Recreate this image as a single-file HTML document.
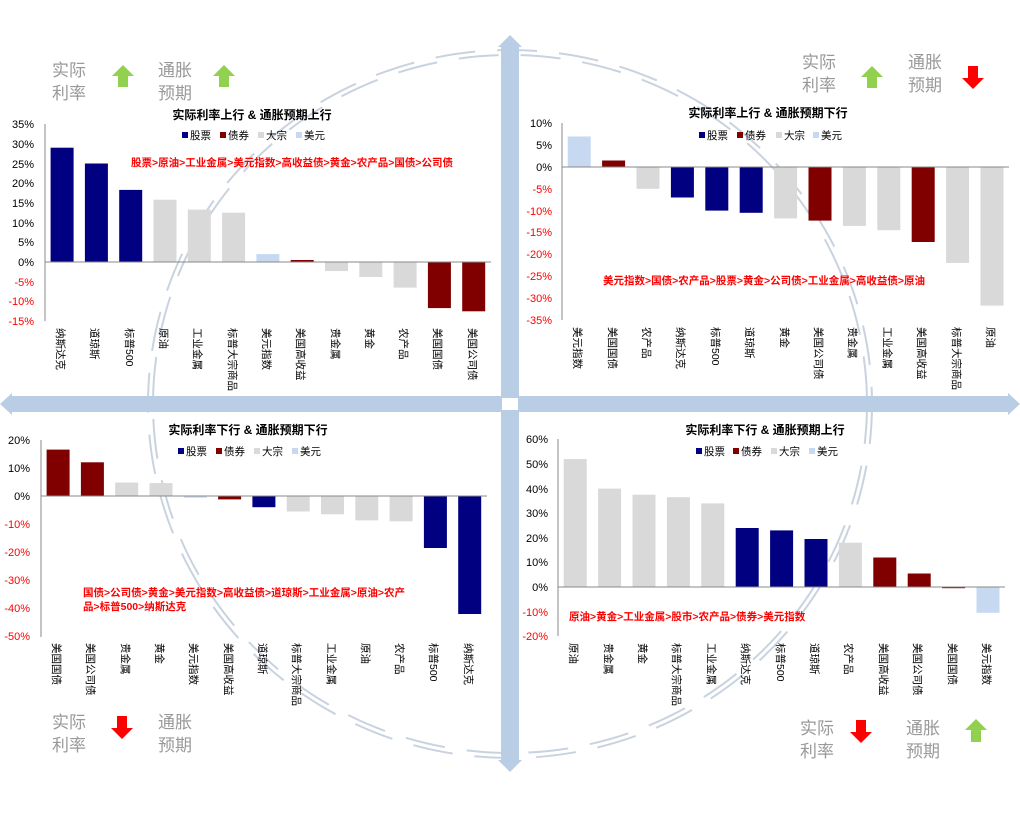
<!DOCTYPE html>
<html><head><meta charset="utf-8"><style>
body{margin:0;background:#fff}
svg{display:block;font-family:"Liberation Sans","Noto Sans CJK SC",sans-serif}
.t{font-size:11px;fill:#000}
.tn{font-size:11px;fill:#f00}
.lb{font-size:10.5px;fill:#000}
.ti{font-size:12px;font-weight:bold;fill:#000;text-anchor:middle}
.lg{font-size:10.5px;fill:#000}
.rd{font-size:10.5px;font-weight:bold;fill:#f00}
.q{font-size:17px;fill:#999}
</style></head><body>
<svg width="1020" height="835" viewBox="0 0 1020 835" xmlns="http://www.w3.org/2000/svg">
<rect width="1020" height="835" fill="#fff"/>
<!-- dashed circle -->
<ellipse cx="510" cy="404" rx="362" ry="354" fill="none" stroke="#c9d3e0" stroke-width="2" stroke-dasharray="40 22"/>
<ellipse cx="510" cy="404" rx="357" ry="349" fill="none" stroke="#c9d3e0" stroke-width="2" stroke-dasharray="40 22"/>
<!-- cross -->
<polygon points="510,35 522,47 519,47 519,396 1008,396 1008,393 1020,404 1008,415 1008,412 519,412 519,760 522,760 510,772 498,760 501,760 501,412 12,412 12,415 0,404 12,393 12,396 501,396 501,47 498,47" fill="#b9cde5"/>
<rect x="502" y="398" width="16" height="12" fill="#fff"/>

<!-- quadrant labels -->
<g class="q">
<text x="52" y="76">实际</text><text x="52" y="99">利率</text>
<text x="158" y="76">通胀</text><text x="158" y="99">预期</text>
<text x="802" y="68">实际</text><text x="802" y="91">利率</text>
<text x="908" y="68">通胀</text><text x="908" y="91">预期</text>
<text x="52" y="728">实际</text><text x="52" y="751">利率</text>
<text x="158" y="728">通胀</text><text x="158" y="751">预期</text>
<text x="800" y="734">实际</text><text x="800" y="757">利率</text>
<text x="906" y="734">通胀</text><text x="906" y="757">预期</text>
</g>
<g fill="#92d050">
<polygon points="123,65 134,76 128,76 128,87 118,87 118,76 112,76"/>
<polygon points="224,65 235,76 229,76 229,87 219,87 219,76 213,76"/>
<polygon points="872,66 883,77 877,77 877,88 867,88 867,77 861,77"/>
<polygon points="976,719 987,730 981,730 981,742 971,742 971,730 965,730"/>
</g>
<g fill="#f00">
<polygon points="973,89 984,78 978,78 978,66 968,66 968,78 962,78"/>
<polygon points="122,739 133,728 127,728 127,716 117,716 117,728 111,728"/>
<polygon points="861,743 872,732 866,732 866,720 856,720 856,732 850,732"/>
</g>

<!-- ===== TL ===== -->
<text class="ti" x="252" y="119">实际利率上行 &amp; 通胀预期上行</text>
<g class="lg"><rect x="182" y="132" width="6" height="6" fill="#000080"/><text x="190" y="139">股票</text>
<rect x="220" y="132" width="6" height="6" fill="#800000"/><text x="228" y="139">债券</text>
<rect x="258" y="132" width="6" height="6" fill="#d9d9d9"/><text x="266" y="139">大宗</text>
<rect x="296" y="132" width="6" height="6" fill="#c6d9f1"/><text x="304" y="139">美元</text></g>
<text class="rd" x="131" y="166">股票&gt;原油&gt;工业金属&gt;美元指数&gt;高收益债&gt;黄金&gt;农产品&gt;国债&gt;公司债</text>
<g>
<rect x="50.6" y="147.7" width="23" height="114.3" fill="#000080"/>
<rect x="84.9" y="163.5" width="23" height="98.5" fill="#000080"/>
<rect x="119.2" y="189.9" width="23" height="72.1" fill="#000080"/>
<rect x="153.5" y="199.7" width="23" height="62.3" fill="#d9d9d9"/>
<rect x="187.8" y="209.6" width="23" height="52.4" fill="#d9d9d9"/>
<rect x="222.1" y="212.7" width="23" height="49.3" fill="#d9d9d9"/>
<rect x="256.4" y="254.1" width="23" height="7.9" fill="#c6d9f1"/>
<rect x="290.7" y="260" width="23" height="2" fill="#800000"/>
<rect x="325" y="262" width="23" height="9.1" fill="#d9d9d9"/>
<rect x="359.3" y="262" width="23" height="15" fill="#d9d9d9"/>
<rect x="393.6" y="262" width="23" height="25.6" fill="#d9d9d9"/>
<rect x="427.9" y="262" width="23" height="46.1" fill="#800000"/>
<rect x="462.2" y="262" width="23" height="49.3" fill="#800000"/>
</g>
<line x1="45" y1="124" x2="45" y2="321" stroke="#888"/>
<line x1="45" y1="262" x2="491" y2="262" stroke="#888"/>
<g text-anchor="end">
<text class="t" x="34" y="128">35%</text><text class="t" x="34" y="148">30%</text><text class="t" x="34" y="168">25%</text><text class="t" x="34" y="187">20%</text><text class="t" x="34" y="207">15%</text><text class="t" x="34" y="227">10%</text><text class="t" x="34" y="246">5%</text><text class="t" x="34" y="266">0%</text>
<text class="tn" x="34" y="286">-5%</text><text class="tn" x="34" y="305">-10%</text><text class="tn" x="34" y="325">-15%</text></g>
<g class="lb">
<text transform="translate(57,328) rotate(90)">纳斯达克</text>
<text transform="translate(91,328) rotate(90)">道琼斯</text>
<text transform="translate(126,328) rotate(90)">标普500</text>
<text transform="translate(160,328) rotate(90)">原油</text>
<text transform="translate(194,328) rotate(90)">工业金属</text>
<text transform="translate(229,328) rotate(90)">标普大宗商品</text>
<text transform="translate(263,328) rotate(90)">美元指数</text>
<text transform="translate(297,328) rotate(90)">美国高收益</text>
<text transform="translate(332,328) rotate(90)">贵金属</text>
<text transform="translate(366,328) rotate(90)">黄金</text>
<text transform="translate(400,328) rotate(90)">农产品</text>
<text transform="translate(434,328) rotate(90)">美国国债</text>
<text transform="translate(469,328) rotate(90)">美国公司债</text>
</g>

<!-- ===== TR ===== -->
<text class="ti" x="768" y="117">实际利率上行 &amp; 通胀预期下行</text>
<g class="lg"><rect x="699" y="132" width="6" height="6" fill="#000080"/><text x="707" y="139">股票</text>
<rect x="737" y="132" width="6" height="6" fill="#800000"/><text x="745" y="139">债券</text>
<rect x="776" y="132" width="6" height="6" fill="#d9d9d9"/><text x="784" y="139">大宗</text>
<rect x="813" y="132" width="6" height="6" fill="#c6d9f1"/><text x="821" y="139">美元</text></g>
<text class="rd" x="603" y="284">美元指数&gt;国债&gt;农产品&gt;股票&gt;黄金&gt;公司债&gt;工业金属&gt;高收益债&gt;原油</text>
<g>
<rect x="567.7" y="136.5" width="23" height="30.5" fill="#c6d9f1"/>
<rect x="602.1" y="160.5" width="23" height="6.5" fill="#800000"/>
<rect x="636.5" y="167" width="23" height="21.8" fill="#d9d9d9"/>
<rect x="670.9" y="167" width="23" height="30.5" fill="#000080"/>
<rect x="705.3" y="167" width="23" height="43.6" fill="#000080"/>
<rect x="739.7" y="167" width="23" height="45.8" fill="#000080"/>
<rect x="774.1" y="167" width="23" height="51.4" fill="#d9d9d9"/>
<rect x="808.5" y="167" width="23" height="53.6" fill="#800000"/>
<rect x="842.9" y="167" width="23" height="58.9" fill="#d9d9d9"/>
<rect x="877.3" y="167" width="23" height="63.2" fill="#d9d9d9"/>
<rect x="911.7" y="167" width="23" height="75" fill="#800000"/>
<rect x="946.1" y="167" width="23" height="95.9" fill="#d9d9d9"/>
<rect x="980.5" y="167" width="23" height="138.6" fill="#d9d9d9"/>
</g>
<line x1="562" y1="123" x2="562" y2="320" stroke="#888"/>
<line x1="562" y1="167" x2="1009" y2="167" stroke="#888"/>
<g text-anchor="end">
<text class="t" x="552" y="127">10%</text><text class="t" x="552" y="149">5%</text><text class="t" x="552" y="171">0%</text>
<text class="tn" x="552" y="193">-5%</text><text class="tn" x="552" y="215">-10%</text><text class="tn" x="552" y="236">-15%</text><text class="tn" x="552" y="258">-20%</text><text class="tn" x="552" y="280">-25%</text><text class="tn" x="552" y="302">-30%</text><text class="tn" x="552" y="324">-35%</text></g>
<g class="lb">
<text transform="translate(574,327) rotate(90)">美元指数</text>
<text transform="translate(609,327) rotate(90)">美国国债</text>
<text transform="translate(643,327) rotate(90)">农产品</text>
<text transform="translate(677,327) rotate(90)">纳斯达克</text>
<text transform="translate(712,327) rotate(90)">标普500</text>
<text transform="translate(746,327) rotate(90)">道琼斯</text>
<text transform="translate(781,327) rotate(90)">黄金</text>
<text transform="translate(815,327) rotate(90)">美国公司债</text>
<text transform="translate(849,327) rotate(90)">贵金属</text>
<text transform="translate(884,327) rotate(90)">工业金属</text>
<text transform="translate(918,327) rotate(90)">美国高收益</text>
<text transform="translate(953,327) rotate(90)">标普大宗商品</text>
<text transform="translate(987,327) rotate(90)">原油</text>
</g>

<!-- ===== BL ===== -->
<text class="ti" x="248" y="434">实际利率下行 &amp; 通胀预期下行</text>
<g class="lg"><rect x="178" y="448" width="6" height="6" fill="#000080"/><text x="186" y="455">股票</text>
<rect x="216" y="448" width="6" height="6" fill="#800000"/><text x="224" y="455">债券</text>
<rect x="254" y="448" width="6" height="6" fill="#d9d9d9"/><text x="262" y="455">大宗</text>
<rect x="292" y="448" width="6" height="6" fill="#c6d9f1"/><text x="300" y="455">美元</text></g>
<text class="rd" x="83" y="596">国债&gt;公司债&gt;黄金&gt;美元指数&gt;高收益债&gt;道琼斯&gt;工业金属&gt;原油&gt;农产</text>
<text class="rd" x="83" y="610">品&gt;标普500&gt;纳斯达克</text>
<g>
<rect x="46.6" y="449.6" width="23" height="46.4" fill="#800000"/>
<rect x="80.9" y="462.3" width="23" height="33.7" fill="#800000"/>
<rect x="115.2" y="482.5" width="23" height="13.5" fill="#d9d9d9"/>
<rect x="149.5" y="483.1" width="23" height="12.9" fill="#d9d9d9"/>
<rect x="183.8" y="496" width="23" height="1.7" fill="#c6d9f1"/>
<rect x="218.1" y="496" width="23" height="3.4" fill="#800000"/>
<rect x="252.4" y="496" width="23" height="11.2" fill="#000080"/>
<rect x="286.7" y="496" width="23" height="15.5" fill="#d9d9d9"/>
<rect x="321" y="496" width="23" height="18.3" fill="#d9d9d9"/>
<rect x="355.3" y="496" width="23" height="24.4" fill="#d9d9d9"/>
<rect x="389.6" y="496" width="23" height="25.3" fill="#d9d9d9"/>
<rect x="423.9" y="496" width="23" height="52" fill="#000080"/>
<rect x="458.2" y="496" width="23" height="118" fill="#000080"/>
</g>
<line x1="41" y1="440" x2="41" y2="637" stroke="#888"/>
<line x1="41" y1="496" x2="487" y2="496" stroke="#888"/>
<g text-anchor="end">
<text class="t" x="30" y="444">20%</text><text class="t" x="30" y="472">10%</text><text class="t" x="30" y="500">0%</text>
<text class="tn" x="30" y="528">-10%</text><text class="tn" x="30" y="556">-20%</text><text class="tn" x="30" y="584">-30%</text><text class="tn" x="30" y="612">-40%</text><text class="tn" x="30" y="640">-50%</text></g>
<g class="lb">
<text transform="translate(53,643) rotate(90)">美国国债</text>
<text transform="translate(87,643) rotate(90)">美国公司债</text>
<text transform="translate(122,643) rotate(90)">贵金属</text>
<text transform="translate(156,643) rotate(90)">黄金</text>
<text transform="translate(190,643) rotate(90)">美元指数</text>
<text transform="translate(225,643) rotate(90)">美国高收益</text>
<text transform="translate(259,643) rotate(90)">道琼斯</text>
<text transform="translate(293,643) rotate(90)">标普大宗商品</text>
<text transform="translate(328,643) rotate(90)">工业金属</text>
<text transform="translate(362,643) rotate(90)">原油</text>
<text transform="translate(396,643) rotate(90)">农产品</text>
<text transform="translate(430,643) rotate(90)">标普500</text>
<text transform="translate(465,643) rotate(90)">纳斯达克</text>
</g>

<!-- ===== BR ===== -->
<text class="ti" x="765" y="434">实际利率下行 &amp; 通胀预期上行</text>
<g class="lg"><rect x="696" y="448" width="6" height="6" fill="#000080"/><text x="704" y="455">股票</text>
<rect x="733" y="448" width="6" height="6" fill="#800000"/><text x="741" y="455">债券</text>
<rect x="771" y="448" width="6" height="6" fill="#d9d9d9"/><text x="779" y="455">大宗</text>
<rect x="809" y="448" width="6" height="6" fill="#c6d9f1"/><text x="817" y="455">美元</text></g>
<text class="rd" x="569" y="620">原油&gt;黄金&gt;工业金属&gt;股市&gt;农产品&gt;债券&gt;美元指数</text>
<g>
<rect x="563.7" y="459.1" width="23" height="127.9" fill="#d9d9d9"/>
<rect x="598.1" y="488.6" width="23" height="98.4" fill="#d9d9d9"/>
<rect x="632.5" y="494.7" width="23" height="92.3" fill="#d9d9d9"/>
<rect x="666.9" y="497.2" width="23" height="89.8" fill="#d9d9d9"/>
<rect x="701.3" y="503.4" width="23" height="83.6" fill="#d9d9d9"/>
<rect x="735.7" y="528" width="23" height="59" fill="#000080"/>
<rect x="770.1" y="530.4" width="23" height="56.6" fill="#000080"/>
<rect x="804.5" y="539" width="23" height="48" fill="#000080"/>
<rect x="838.9" y="542.7" width="23" height="44.3" fill="#d9d9d9"/>
<rect x="873.3" y="557.5" width="23" height="29.5" fill="#800000"/>
<rect x="907.7" y="573.5" width="23" height="13.5" fill="#800000"/>
<rect x="942.1" y="587" width="23" height="1.2" fill="#800000"/>
<rect x="976.5" y="587" width="23" height="25.8" fill="#c6d9f1"/>
</g>
<line x1="558" y1="439" x2="558" y2="636" stroke="#888"/>
<line x1="558" y1="587" x2="1005" y2="587" stroke="#888"/>
<g text-anchor="end">
<text class="t" x="548" y="443">60%</text><text class="t" x="548" y="468">50%</text><text class="t" x="548" y="493">40%</text><text class="t" x="548" y="517">30%</text><text class="t" x="548" y="542">20%</text><text class="t" x="548" y="566">10%</text><text class="t" x="548" y="591">0%</text>
<text class="tn" x="548" y="616">-10%</text><text class="tn" x="548" y="640">-20%</text></g>
<g class="lb">
<text transform="translate(570,643) rotate(90)">原油</text>
<text transform="translate(605,643) rotate(90)">贵金属</text>
<text transform="translate(639,643) rotate(90)">黄金</text>
<text transform="translate(673,643) rotate(90)">标普大宗商品</text>
<text transform="translate(708,643) rotate(90)">工业金属</text>
<text transform="translate(742,643) rotate(90)">纳斯达克</text>
<text transform="translate(777,643) rotate(90)">标普500</text>
<text transform="translate(811,643) rotate(90)">道琼斯</text>
<text transform="translate(845,643) rotate(90)">农产品</text>
<text transform="translate(880,643) rotate(90)">美国高收益</text>
<text transform="translate(914,643) rotate(90)">美国公司债</text>
<text transform="translate(949,643) rotate(90)">美国国债</text>
<text transform="translate(983,643) rotate(90)">美元指数</text>
</g>
</svg>
</body></html>
